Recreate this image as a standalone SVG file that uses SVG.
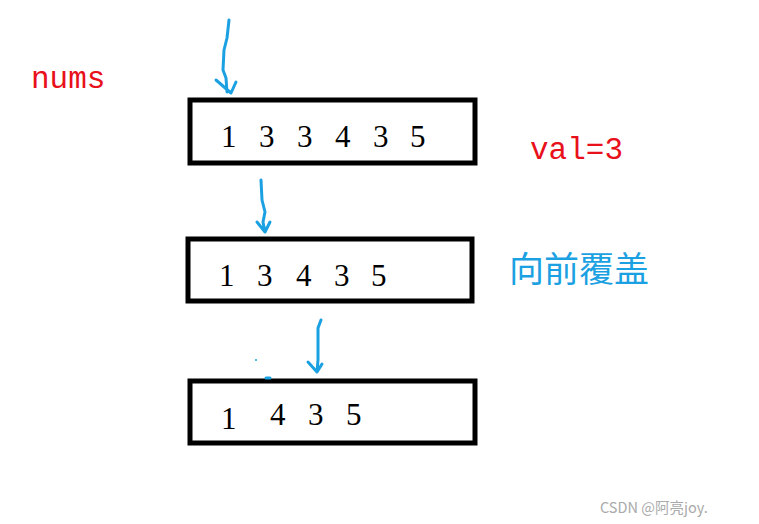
<svg xmlns="http://www.w3.org/2000/svg" width="759" height="524" viewBox="0 0 759 524">
<style>
.box{fill:#fff;stroke:#000;stroke-width:5}
.d{font-family:"Liberation Serif",serif;font-size:31px;fill:#000}
.arr{fill:none;stroke:#1ba1e2;stroke-width:3;stroke-linecap:round;stroke-linejoin:round}
.red{font-family:"Liberation Mono",monospace;font-size:31px;fill:#e8101a}
</style>
<rect width="759" height="524" fill="#fff"/>
<g id="labels">
<text class="red" x="31" y="88">nums</text>
<text class="red" x="530" y="159">val=3</text>
<text x="509" y="282" font-family="Noto Sans CJK SC,sans-serif" font-size="35" fill="#1ba1e2">向前覆盖</text>
<text x="600" y="513" font-family="Noto Sans CJK SC,sans-serif" font-size="14.5" fill="#aaa">CSDN @阿亮joy.</text>
</g>
<g id="box1"><rect class="box" x="190" y="100" width="285" height="63"/>
<text class="d" y="147"><tspan x="221">1</tspan><tspan x="259">3</tspan><tspan x="297">3</tspan><tspan x="335">4</tspan><tspan x="373">3</tspan><tspan x="410">5</tspan></text></g>
<g id="box2"><rect class="box" x="188" y="239" width="284" height="62"/>
<text class="d" y="286"><tspan x="219">1</tspan><tspan x="257">3</tspan><tspan x="296">4</tspan><tspan x="334">3</tspan><tspan x="371">5</tspan></text></g>
<g id="box3"><rect class="box" x="190" y="381" width="285" height="62"/>
<text class="d" y="429"><tspan x="221">1</tspan></text>
<text class="d" y="425"><tspan x="270">4</tspan><tspan x="308">3</tspan><tspan x="346">5</tspan></text></g>
<g id="connectors">
<path class="arr" d="M229 20 L227 38 L224 50 L223 70 L226 78 L227 92 M216 80 L231 93 L236 82"/>
<path class="arr" d="M261 180 L262 200 L265 212 L263 222 L265 232 M257 222 L265 232 L270 222"/>
<path class="arr" d="M321 320 L318 328 L318 360 L317 372 M308 362 L317 372 L322 364"/>
<circle cx="256" cy="360" r="1" fill="#1ba1e2"/>
<path class="arr" d="M266 378 L270 378" stroke-width="2"/>
</g>
</svg>
